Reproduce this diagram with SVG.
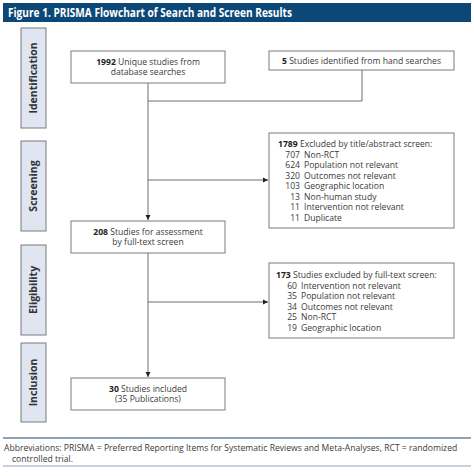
<svg xmlns="http://www.w3.org/2000/svg" width="474" height="476" viewBox="0 0 474 476">
<style>
text{font-family:"Open Sans","Liberation Sans",sans-serif;fill:#3a3a3a}
.b{font-weight:bold;fill:#222}
.box{fill:#fff;stroke:#7a7a7a;stroke-width:1}
.stage{fill:#dfe5f1;stroke:#7a7a7a;stroke-width:1}
.sl{font-size:10.5px;font-weight:bold;fill:#333;text-anchor:middle}
.t{font-size:8.6px}
.c{text-anchor:middle}
.r{text-anchor:end}
.ln{stroke:#6f6f6f;stroke-width:1;fill:none}
</style>
<defs>
<marker id="ah" markerWidth="6" markerHeight="6" refX="5" refY="3" orient="auto" markerUnits="userSpaceOnUse">
<path d="M0,0.5 L5,3 L0,5.5 Z" fill="#222"/>
</marker>
</defs>
<rect x="0" y="0" width="474" height="476" fill="#fff"/>
<g id="title">
<rect x="3" y="3" width="468" height="19" fill="#0b4877"/>
<text x="8" y="16.5" textLength="284" lengthAdjust="spacingAndGlyphs" style="font-size:11.5px;font-weight:bold;fill:#fff">Figure 1. PRISMA Flowchart of Search and Screen Results</text>
</g>
<g id="stage-identification">
<rect class="stage" x="21" y="28" width="25" height="100"/>
<text class="sl" transform="translate(37,78) rotate(-90)">Identification</text>
</g>
<g id="stage-screening">
<rect class="stage" x="21" y="141" width="25" height="90"/>
<text class="sl" transform="translate(37,186) rotate(-90)">Screening</text>
</g>
<g id="stage-eligibility">
<rect class="stage" x="21" y="245" width="25" height="90"/>
<text class="sl" transform="translate(37,290) rotate(-90)">Eligibility</text>
</g>
<g id="stage-inclusion">
<rect class="stage" x="21" y="343" width="25" height="79"/>
<text class="sl" transform="translate(37,382.5) rotate(-90)">Inclusion</text>
</g>
<g id="connectors">
<line class="ln" x1="148" y1="83" x2="148" y2="220" marker-end="url(#ah)"/>
<polyline class="ln" points="148,101 362,101 362,70"/>
<line class="ln" x1="148" y1="180" x2="268" y2="180" marker-end="url(#ah)"/>
<line class="ln" x1="148" y1="253" x2="148" y2="377" marker-end="url(#ah)"/>
<line class="ln" x1="148" y1="302" x2="268" y2="302" marker-end="url(#ah)"/>
</g>
<g id="node-db">
<rect class="box" x="71" y="51" width="154" height="32"/>
<text class="t c" x="148" y="64.5"><tspan class="b">1992</tspan> Unique studies from</text>
<text class="t c" x="148" y="75">database searches</text>
</g>
<g id="node-hand">
<rect class="box" x="269" y="51" width="185" height="19"/>
<text class="t c" x="361.5" y="63.5"><tspan class="b">5</tspan> Studies identified from hand searches</text>
</g>
<g id="node-excl1">
<rect class="box" x="269" y="133" width="185" height="95"/>
<text class="t" x="278" y="147"><tspan class="b">1789</tspan> Excluded by title/abstract screen:</text>
<text class="t r" x="300" y="157.5">707</text><text class="t" x="304" y="157.5">Non-RCT</text>
<text class="t r" x="300" y="168">624</text><text class="t" x="304" y="168">Population not relevant</text>
<text class="t r" x="300" y="178.5">320</text><text class="t" x="304" y="178.5">Outcomes not relevant</text>
<text class="t r" x="300" y="189">103</text><text class="t" x="304" y="189">Geographic location</text>
<text class="t r" x="300" y="199.5">13</text><text class="t" x="304" y="199.5">Non-human study</text>
<text class="t r" x="300" y="210">11</text><text class="t" x="304" y="210">Intervention not relevant</text>
<text class="t r" x="300" y="220.5">11</text><text class="t" x="304" y="220.5">Duplicate</text>
</g>
<g id="node-fulltext">
<rect class="box" x="71" y="221" width="154" height="32"/>
<text class="t c" x="148" y="234.5"><tspan class="b">208</tspan> Studies for assessment</text>
<text class="t c" x="148" y="245">by full-text screen</text>
</g>
<g id="node-excl2">
<rect class="box" x="269" y="263" width="185" height="75"/>
<text class="t" x="276" y="278"><tspan class="b">173</tspan> Studies excluded by full-text screen:</text>
<text class="t r" x="297" y="288.5">60</text><text class="t" x="301" y="288.5">Intervention not relevant</text>
<text class="t r" x="297" y="299">35</text><text class="t" x="301" y="299">Population not relevant</text>
<text class="t r" x="297" y="309.5">34</text><text class="t" x="301" y="309.5">Outcomes not relevant</text>
<text class="t r" x="297" y="320">25</text><text class="t" x="301" y="320">Non-RCT</text>
<text class="t r" x="297" y="330.5">19</text><text class="t" x="301" y="330.5">Geographic location</text>
</g>
<g id="node-included">
<rect class="box" x="71" y="378" width="154" height="32"/>
<text class="t c" x="148" y="391.5"><tspan class="b">30</tspan> Studies included</text>
<text class="t c" x="148" y="402">(35 Publications)</text>
</g>
<g id="footer">
<line x1="3" y1="438" x2="471" y2="438" stroke="#8fa3b8" stroke-width="2"/>
<text class="t" x="4" y="451">Abbreviations: PRISMA = Preferred Reporting Items for Systematic Reviews and Meta-Analyses, RCT = randomized</text>
<text class="t" x="12" y="462">controlled trial.</text>
<line x1="3" y1="466" x2="471" y2="466" stroke="#8fa3b8" stroke-width="1.2"/>
</g>
</svg>
